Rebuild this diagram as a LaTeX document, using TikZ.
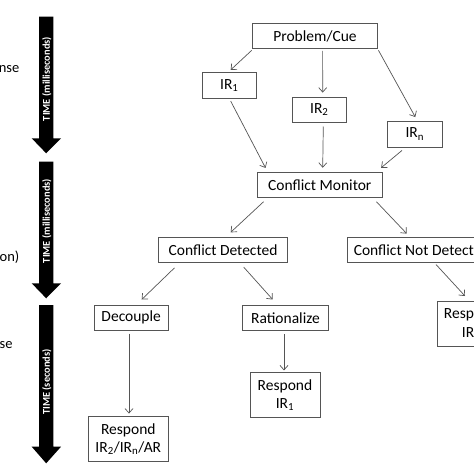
\documentclass[tikz,border=0pt]{standalone}
\usepackage{fontspec}
\setmainfont{Carlito}
\usetikzlibrary{arrows.meta,calc}
\definecolor{linegray}{HTML}{555555}
\tikzset{
  box/.style={draw=linegray, line width=0.9pt, fill=white, inner sep=0pt, align=center, font=\fontsize{15.5}{18.5}\selectfont},
  arr/.style={draw=linegray, line width=0.7pt, -{Straight Barb[length=4.5pt,width=8pt,line width=0.7pt]}},
  timetext/.style={rotate=90, text=white, font=\bfseries\fontsize{10.4}{12}\selectfont, inner sep=0pt},
  sidetext/.style={anchor=east, inner sep=0pt, font=\fontsize{14.5}{17}\selectfont},
}
\newcommand{\sub}[1]{\textsubscript{#1}}
\newcommand{\timearrow}[3]{% top, base, tip
  \fill[black] (39,#1) -- (53.3,#1) -- (53.3,#2) -- (61,#2) -- (46.2,#3) -- (31.7,#2) -- (39,#2) -- cycle;}
\begin{document}
\begin{tikzpicture}[x=1pt,y=-1pt]
\useasboundingbox (0,0) rectangle (474,474);
\clip (0,0) rectangle (474,474);
\fill[white] (0,0) rectangle (474,474);

% time arrows
\timearrow{16.7}{138.3}{153.3}
\timearrow{161.7}{283.3}{298.3}
\timearrow{305}{446.7}{463.3}
\node[timetext] (t1) at (46.8,79) {TIME (milliseconds)};
\node[timetext] (t2) at (46.8,221) {TIME (milliseconds)};
\node[timetext] (t3) at (46.8,382) {TIME (seconds)};

% side labels (cut off at the left edge)
\node[sidetext] (s1) at (19.5,69.5) {nse};
\node[sidetext] (s2) at (19.5,257.5) {on)};
\node[sidetext] (s3) at (12.8,345) {se};

% boxes
\node[box, minimum width=124.6pt, minimum height=25.7pt] (pc) at (315,36) {Problem/Cue};
\node[box, minimum width=54.7pt, minimum height=26pt] (ir1) at (229.3,85.3) {IR\sub{1}};
\node[box, minimum width=54.7pt, minimum height=25.7pt] (ir2) at (319.3,109.9) {IR\sub{2}};
\node[box, minimum width=55pt, minimum height=26pt] (irn) at (414.8,134) {IR\sub{n}};
\node[box, minimum width=125pt, minimum height=24.6pt] (cm) at (319.8,185) {Conflict Monitor};
\node[box, minimum width=129.4pt, minimum height=24.7pt] (cd) at (223,249.7) {Conflict Detected};
\node[box, minimum height=24.7pt, inner xsep=6.6pt, anchor=west] (cnd) at (346.7,249.7) {Conflict Not Detected};
\node[box, minimum width=74.3pt, minimum height=25.7pt] (dec) at (131.2,317.8) {Decouple};
\node[box, minimum width=85.6pt, minimum height=25.7pt] (rat) at (285.5,317.8) {Rationalize};
\node[box, minimum width=70pt, minimum height=44.6pt] (r1) at (285,395) {Respond\\IR\sub{1}};
\node[box, minimum width=80pt, minimum height=45pt] (r2) at (128.3,439.2) {Respond\\IR\sub{2}/IR\sub{n}/AR};
\node[box, minimum width=68pt, minimum height=44.3pt, anchor=west] (rn) at (436.7,323.9) {Respond\\IR\sub{n}};

% connectors
\draw[arr] ($(pc.south west)+(-0.5,1)$) -- ($(ir1.north)+(1.4,-2)$);
\draw[arr] ($(pc.south)+(7.6,1.5)$) -- ($(ir2.north)+(3.4,-4)$);
\draw[arr] ($(pc.south east)+(0.7,1)$) -- ($(irn.north)+(0.5,-3.5)$);
\draw[arr] ($(ir1.south)+(1.4,2.4)$) -- ($(cm.north west)+(8.7,-4.3)$);
\draw[arr] ($(ir2.south)+(4,3.3)$) -- ($(cm.north)+(2.9,-4.5)$);
\draw[arr] ($(irn.south)+(-12.8,3)$) -- ($(cm.north east)+(-1.6,-4.5)$);
\draw[arr] ($(cm.south west)+(6.7,4)$) -- ($(cd.north)+(7.7,-4.6)$);
\draw[arr] ($(cm.south east)+(-6.3,4)$) -- ($(cnd.north west)+(60,-3.3)$);
\draw[arr] ($(cd.south west)+(16.7,5.3)$) -- ($(dec.north)+(10.5,-5)$);
\draw[arr] ($(cd.south east)+(-44.4,4.7)$) -- ($(rat.north)+(-12.8,-5)$);
\draw[arr] ($(cnd.south west)+(89.3,2)$) -- ($(rn.north west)+(28.3,-5.3)$);
\draw[arr] ($(rat.south)+(-1.5,3.3)$) -- ($(r1.north)+(-1,-1.8)$);
\draw[arr] ($(dec.south)+(-2.2,2.6)$) -- ($(r2.north)+(0.7,-2.7)$);
\end{tikzpicture}
\end{document}
